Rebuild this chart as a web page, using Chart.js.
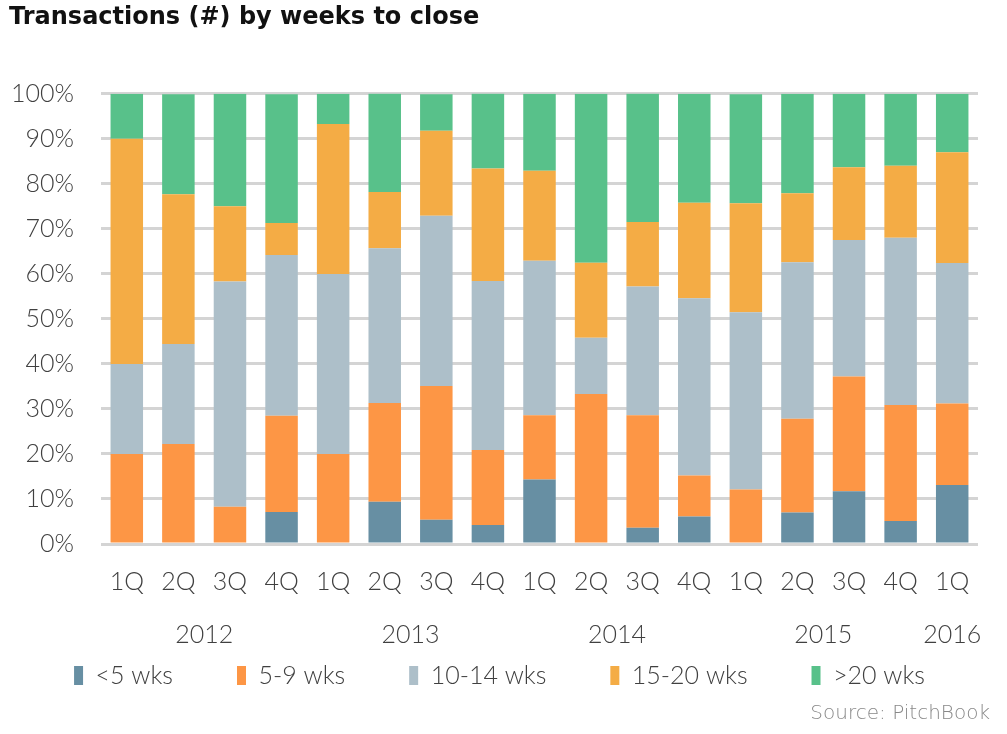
<!DOCTYPE html>
<html>
<head>
<meta charset="utf-8">
<script src="https://cdn.jsdelivr.net/npm/chart.js@4.4.1/dist/chart.umd.min.js"></script>
<style>
  html, body { margin: 0; padding: 0; background: #fff; }
  #wrap { width: 1007px; height: 734px; position: relative; }
</style>
</head>
<body>
<div id="wrap"><canvas id="weeksChart"></canvas></div>
<script>
// quarters on the x axis
let quarters = ['1Q','2Q','3Q','4Q','1Q','2Q','3Q','4Q','1Q','2Q','3Q','4Q','1Q','2Q','3Q','4Q','1Q'];

// year labels under the quarters, and the category index they sit under
let years = ['2012','2013','2014','2015','2016'];
let yearAt = [1.5, 5.5, 9.5, 13.5, 16];

// share of transactions (%) per bucket
let under5 = [0, 0, 0, 7.1, 0, 9.4, 5.4, 4.2, 14.3, 0, 3.6, 6.1, 0, 7.0, 11.7, 5.1, 13.1];
let wk5to9 = [20, 22.2, 8.3, 21.4, 20, 21.9, 29.7, 16.7, 14.3, 33.3, 25, 9.1, 12.1, 20.8, 25.5, 25.8, 18.1];
let wk10to14 = [20, 22.2, 50, 35.7, 40, 34.4, 37.8, 37.5, 34.3, 12.5, 28.6, 39.4, 39.4, 34.8, 30.3, 37.1, 31.2];
let wk15to20 = [50, 33.3, 16.7, 7.1, 33.3, 12.5, 18.9, 25, 20, 16.7, 14.3, 21.2, 24.2, 15.3, 16.2, 16.0, 24.6];
let over20 = [10, 22.2, 25, 28.6, 6.7, 21.9, 8.1, 16.7, 17.1, 37.5, 28.6, 24.2, 24.2, 22.1, 16.3, 16.0, 13.0];

let yTicks = [0, 10, 20, 30, 40, 50, 60, 70, 80, 90, 100];

const labelFont = { family: 'Lato', size: 25, weight: '300' };
const textColor = '#404040';

// draws the year row under the quarter labels
const yearLabels = {
    id: 'yearLabels',
    afterDraw(chart) {
        let ctx = chart.ctx;
        let xs = chart.scales.x;
        ctx.save();
        ctx.font = '300 25px Lato';
        ctx.fillStyle = textColor;
        ctx.textAlign = 'center';
        ctx.textBaseline = 'middle';
        for (let i = 0; i < years.length; i++) {
            ctx.fillText(years[i], xs.getPixelForValue(yearAt[i]), xs.top + 91);
        }
        ctx.restore();
    }
};

function renderChart() {
    let ctx = document.getElementById('weeksChart').getContext('2d');
    new Chart(ctx, {
        type: 'bar',
        data: {
            labels: quarters,
            datasets: [
                { label: '<5 wks', data: under5, backgroundColor: '#678fa3' },
                { label: '5-9 wks', data: wk5to9, backgroundColor: '#fd9645' },
                { label: '10-14 wks', data: wk10to14, backgroundColor: '#adbfc9' },
                { label: '15-20 wks', data: wk15to20, backgroundColor: '#f4ac45' },
                { label: '>20 wks', data: over20, backgroundColor: '#58c18a' }
            ]
        },
        plugins: [yearLabels],
        options: {
            responsive: true,
            maintainAspectRatio: false,
            animation: false,
            datasets: {
                bar: { barPercentage: 0.63, categoryPercentage: 1.0, borderWidth: 0 }
            },
            layout: {
                padding: { left: 9, right: 17, top: 0, bottom: 8 }
            },
            scales: {
                x: {
                    stacked: true,
                    grid: { display: false, drawTicks: false },
                    border: { display: false },
                    ticks: { font: labelFont, color: textColor, padding: 23, maxRotation: 0 },
                    afterFit: function(scale) { scale.height -= 21; }
                },
                y: {
                    stacked: true,
                    min: yTicks[0],
                    max: yTicks[yTicks.length - 1],
                    afterBuildTicks: function(scale) {
                        scale.ticks = yTicks.map(v => ({ value: v }));
                    },
                    afterFit: function(scale) { scale.width = 92; },
                    grid: { color: '#d4d4d4', lineWidth: 3, drawTicks: false },
                    border: { display: false },
                    ticks: {
                        font: labelFont,
                        color: textColor,
                        padding: 27,
                        callback: v => v + '%'
                    }
                },
                // empty strip on the right so the plot stops short of the source note
                rightGap: {
                    position: 'right',
                    display: true,
                    grid: { display: false, drawTicks: false },
                    border: { display: false },
                    ticks: { display: false },
                    afterFit: function(scale) { scale.width = 12; }
                }
            },
            plugins: {
                title: {
                    display: true,
                    text: 'Transactions (#) by weeks to close',
                    align: 'start',
                    color: '#111',
                    font: { family: 'DejaVu Sans', size: 24, weight: 'bold' },
                    padding: { top: 3, bottom: 62 }
                },
                subtitle: {
                    display: true,
                    position: 'bottom',
                    text: 'Source: PitchBook',
                    align: 'end',
                    color: '#888',
                    font: { family: 'DejaVu Sans', size: 20, weight: '300' },
                    padding: { top: 4, bottom: 0 }
                },
                legend: {
                    position: 'bottom',
                    labels: {
                        font: labelFont,
                        color: textColor,
                        boxWidth: 9,
                        boxHeight: 19,
                        padding: 64
                    }
                },
                tooltip: { enabled: false }
            }
        }
    });
}

renderChart();
</script>
</body>
</html>
